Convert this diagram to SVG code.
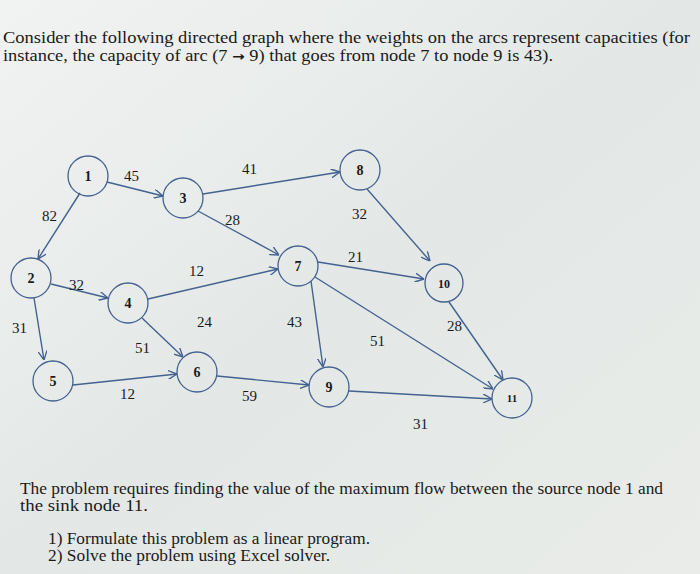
<svg xmlns="http://www.w3.org/2000/svg" width="700" height="574" viewBox="0 0 700 574">
<defs>
<linearGradient id="bg" x1="0" y1="0" x2="1" y2="1">
<stop offset="0" stop-color="#f1f3f2"/><stop offset="0.5" stop-color="#e3e8e6"/><stop offset="1" stop-color="#e9ece9"/>
</linearGradient>
<marker id="ah" viewBox="0 0 10 10" refX="10" refY="5" markerWidth="9" markerHeight="9" orient="auto" markerUnits="userSpaceOnUse">
<path d="M0,0 L10,5 L0,10" fill="none" stroke="#44618f" stroke-width="1.5"/>
</marker>
<style>
text{font-family:"Liberation Serif",serif;fill:#1a1a1a}
.t{font-size:16px}
.w{font-size:15px}
.n{font-size:14px;font-weight:bold;text-anchor:middle}
circle{fill:none;stroke:#44618f;stroke-width:1.3}
#edges line{stroke:#44618f;stroke-width:1.4;marker-end:url(#ah)}
</style>
</defs>
<rect width="700" height="574" fill="url(#bg)"/>
<text class="t" x="3" y="43" textLength="687" lengthAdjust="spacingAndGlyphs">Consider the following directed graph where the weights on the arcs represent capacities (for</text>
<text class="t" x="3" y="61" textLength="550" lengthAdjust="spacingAndGlyphs">instance, the capacity of arc (7 <tspan font-family="DejaVu Sans" font-weight="bold" font-size="13">→</tspan> 9) that goes from node 7 to node 9 is 43).</text>
<g id="edges">
<line x1="107" y1="182" x2="163" y2="196"/>
<line x1="80" y1="193" x2="38" y2="259"/>
<line x1="203" y1="194" x2="340" y2="172"/>
<line x1="198" y1="211" x2="279" y2="255"/>
<line x1="51" y1="284" x2="108" y2="298"/>
<line x1="34" y1="298" x2="44" y2="360"/>
<line x1="148" y1="299" x2="278" y2="269"/>
<line x1="142" y1="318" x2="183" y2="357"/>
<line x1="73" y1="385" x2="177" y2="374"/>
<line x1="217" y1="376" x2="309" y2="385"/>
<line x1="311" y1="281" x2="323" y2="367"/>
<line x1="318" y1="262" x2="424" y2="279"/>
<line x1="315" y1="277" x2="493" y2="389"/>
<line x1="367" y1="189" x2="430" y2="261"/>
<line x1="449" y1="302" x2="503" y2="380"/>
<line x1="349" y1="391" x2="492" y2="399"/>
</g>
<g id="n1"><circle cx="88" cy="176" r="20"/><text class="n" x="88" y="181">1</text></g>
<g id="n2"><circle cx="31" cy="278" r="20"/><text class="n" x="31" y="283">2</text></g>
<g id="n3"><circle cx="183" cy="198" r="20"/><text class="n" x="183" y="203">3</text></g>
<g id="n4"><circle cx="128" cy="303" r="20"/><text class="n" x="128" y="308">4</text></g>
<g id="n5"><circle cx="53" cy="381" r="20"/><text class="n" x="53" y="386">5</text></g>
<g id="n6"><circle cx="197" cy="372" r="20"/><text class="n" x="197" y="377">6</text></g>
<g id="n7"><circle cx="298" cy="266" r="20"/><text class="n" x="298" y="271">7</text></g>
<g id="n8"><circle cx="360" cy="170" r="20"/><text class="n" x="360" y="175">8</text></g>
<g id="n9"><circle cx="329" cy="387" r="20"/><text class="n" x="329" y="392">9</text></g>
<g id="n10"><circle cx="444" cy="283" r="19"/><text class="n" x="444" y="288" style="font-size:12px">10</text></g>
<g id="n11"><circle cx="512" cy="398" r="20"/><text class="n" x="512" y="402" style="font-size:11px">11</text></g>
<g id="weights">
<text class="w" x="124" y="181">45</text>
<text class="w" x="242" y="174">41</text>
<text class="w" x="42" y="221">82</text>
<text class="w" x="225" y="225">28</text>
<text class="w" x="352" y="219">32</text>
<text class="w" x="348" y="262">21</text>
<text class="w" x="189" y="276">12</text>
<text class="w" x="69" y="290">32</text>
<text class="w" x="12" y="333">31</text>
<text class="w" x="197" y="327">24</text>
<text class="w" x="287" y="327">43</text>
<text class="w" x="370" y="346">51</text>
<text class="w" x="447" y="331">28</text>
<text class="w" x="135" y="353">51</text>
<text class="w" x="120" y="399">12</text>
<text class="w" x="242" y="401">59</text>
<text class="w" x="413" y="429">31</text>
</g>
<text class="t" x="20" y="494" textLength="643" lengthAdjust="spacingAndGlyphs">The problem requires finding the value of the maximum flow between the source node 1 and</text>
<text class="t" x="20" y="511" textLength="128" lengthAdjust="spacingAndGlyphs">the sink node 11.</text>
<text class="t" x="48" y="544" textLength="322" lengthAdjust="spacingAndGlyphs">1)  Formulate this problem as a linear program.</text>
<text class="t" x="48" y="561" textLength="282" lengthAdjust="spacingAndGlyphs">2)  Solve the problem using Excel solver.</text>
</svg>
